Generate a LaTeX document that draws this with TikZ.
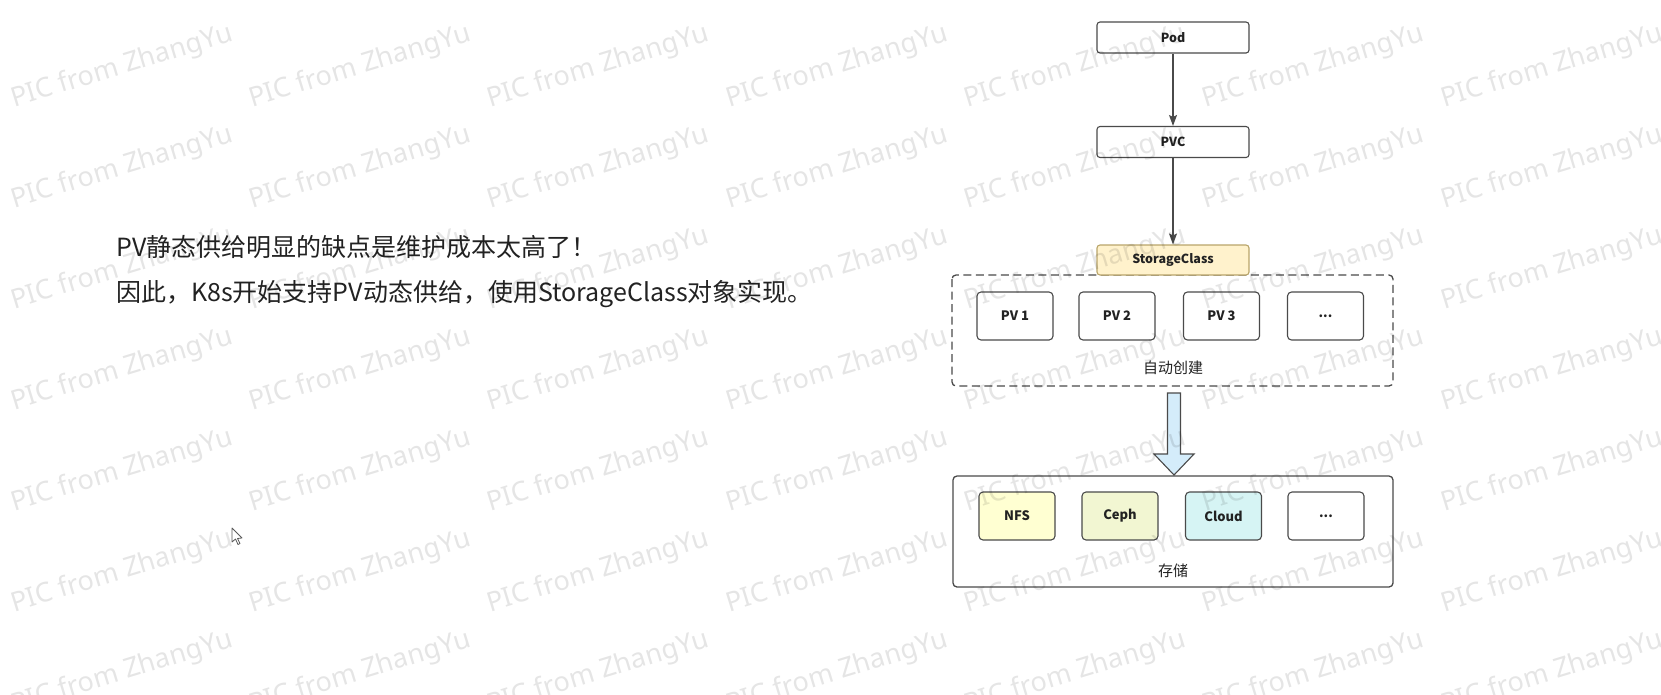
\documentclass[tikz,border=0pt]{standalone}
\usepackage{fontspec}
\setmainfont{Noto Sans CJK SC}
\newfontfamily\wmfont{Noto Sans}
\usetikzlibrary{arrows.meta}
\definecolor{boxline}{HTML}{4A4A4A}
\definecolor{scfill}{HTML}{FFF2CC}
\definecolor{scline}{HTML}{B9A56A}
\definecolor{nfsfill}{HTML}{FFFFD2}
\definecolor{cephfill}{HTML}{F2F6D2}
\definecolor{cloudfill}{HTML}{D6F4F4}
\definecolor{arrowfill}{HTML}{D4ECFA}
\definecolor{txt}{HTML}{222222}
\tikzset{
  box/.style={draw=boxline, line width=1.1pt, rounded corners=3pt, fill=white,
    minimum width=#1, minimum height=31pt, inner sep=0pt,
    font=\fontsize{12.5}{14}\selectfont\bfseries, text=txt},
  box/.default=152pt,
  pvbox/.style={draw=boxline, line width=1.1pt, rounded corners=4pt, fill=white,
    minimum width=76pt, minimum height=48pt, inner sep=0pt,
    font=\fontsize{13}{15}\selectfont\bfseries, text=txt},
  group/.style={draw=boxline, line width=1.3pt, rounded corners=4pt, inner sep=0pt},
  grouplabel/.style={font=\fontsize{15}{17}\selectfont, text=txt, inner sep=0pt},
  link/.style={draw=boxline, line width=1.2pt, -{Stealth[length=11pt,width=8pt,inset=2pt]}},
  lefttext/.style={font=\fontsize{25}{28}\selectfont, text=txt, anchor=west, inner sep=0pt},
  wm/.style={font=\wmfont\fontsize{27}{30}\selectfont, text=black, opacity=0.10, rotate=17, inner sep=0pt}
}
\begin{document}
\begin{tikzpicture}[x=1pt,y=-1pt]
\useasboundingbox (0,0) rectangle (1661,694);
\clip (0,0) rectangle (1661,694);
\fill[white] (0,0) rectangle (1661,694);

% left text
\node[lefttext] (line1) at (116,247) {PV静态供给明显的缺点是维护成本太高了！};
\node[lefttext] (line2) at (116,294) {因此，K8s开始支持PV动态供给，使用StorageClass对象实现。};

% groups
\draw[group, dashed, dash pattern=on 8pt off 4.5pt] (952,275) rectangle (1393,386);
\node[grouplabel] (auto) at (1173,368) {自动创建};
\draw[group] (953,476) rectangle (1393,587);
\node[grouplabel] (store) at (1173,571) {存储};

% top chain
\node[box] (pod) at (1173,37.5) {Pod};
\node[box] (pvc) at (1173,142) {PVC};
\node[box, fill=scfill, draw=scline, minimum height=30pt] (sc) at (1173,260) {StorageClass};
\draw[link] (pod) -- (pvc);
\draw[link] (pvc) -- (sc);

% PVs
\node[pvbox] (pv1) at (1015,316) {PV 1};
\node[pvbox] (pv2) at (1117,316) {PV 2};
\node[pvbox] (pv3) at (1221.5,316) {PV 3};
\node[pvbox] (pvx) at (1325.5,316) {...};

% storages
\node[pvbox, fill=nfsfill] (nfs) at (1017,516) {NFS};
\node[pvbox, fill=cephfill] (ceph) at (1120,516) {Ceph};
\node[pvbox, fill=cloudfill] (cloud) at (1223.5,516) {Cloud};
\node[pvbox] (stx) at (1326,516) {...};

% big arrow
\draw[draw=boxline, line width=1.1pt, fill=arrowfill, line join=miter]
  (1167.5,393) -- (1180.5,393) -- (1180.5,454) -- (1194,454) -- (1174,475)
  -- (1154,454) -- (1167.5,454) -- cycle;

% cursor
\draw[draw=gray!70!black, fill=white, line width=0.8pt, line join=round]
  (232,528) -- (232,542) -- (235.5,539) -- (238,544.5) -- (240,543.5) -- (237.5,538.5) -- (242,538) -- cycle;

% watermarks
\foreach \c [count=\i] in {122,360,598,837,1075,1313,1552}{
  \foreach \r [count=\j] in {67,168,269,370,471,572,673}{
    \node[wm] (wm-\i-\j) at (\c,\r) {PIC from ZhangYu};
  }
}
\end{tikzpicture}
\end{document}
